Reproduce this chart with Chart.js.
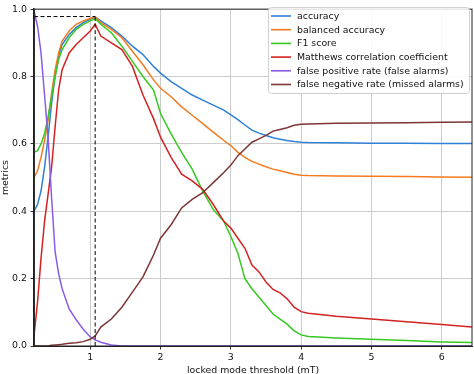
<!DOCTYPE html>
<html>
<head>
<meta charset="utf-8">
<script src="https://cdn.jsdelivr.net/npm/chart.js@4.4.1/dist/chart.umd.min.js"></script>
<style>
  html, body { margin: 0; padding: 0; background: #fff; }
  #wrap { width: 474px; height: 374px; position: relative; }
</style>
</head>
<body>
<div id="wrap"><canvas id="c" width="474" height="374"></canvas></div>
<script>
// ---- data ----
const thresholds = [0.2,0.25,0.3,0.35,0.4,0.45,0.5,0.55,0.6,0.7,0.8,0.9,1.0,1.07,1.15,1.3,1.45,1.6,1.75,1.9,2.0,2.15,2.3,2.45,2.6,2.75,2.9,3.0,3.1,3.2,3.3,3.4,3.5,3.6,3.7,3.8,3.9,4.0,4.1,4.5,5.0,5.5,6.0,6.45];

const accuracy = [0.40,0.42,0.46,0.53,0.62,0.72,0.80,0.86,0.895,0.925,0.945,0.96,0.97,0.977,0.965,0.945,0.92,0.89,0.865,0.83,0.81,0.785,0.765,0.745,0.73,0.715,0.70,0.686,0.672,0.656,0.641,0.632,0.625,0.618,0.614,0.61,0.607,0.605,0.604,0.603,0.602,0.602,0.601,0.601];

const balancedAccuracy = [0.50,0.52,0.56,0.61,0.67,0.75,0.82,0.87,0.905,0.935,0.955,0.965,0.972,0.977,0.96,0.94,0.915,0.875,0.835,0.79,0.765,0.74,0.71,0.685,0.66,0.635,0.61,0.595,0.575,0.56,0.548,0.54,0.532,0.525,0.52,0.515,0.51,0.507,0.506,0.505,0.504,0.503,0.502,0.501];

const f1Score = [0.575,0.58,0.60,0.63,0.68,0.74,0.80,0.85,0.88,0.915,0.94,0.955,0.965,0.972,0.955,0.93,0.89,0.845,0.80,0.76,0.69,0.63,0.575,0.525,0.46,0.405,0.37,0.325,0.275,0.20,0.17,0.145,0.12,0.095,0.08,0.065,0.045,0.033,0.028,0.024,0.02,0.016,0.012,0.01];

const mcc = [0.03,0.13,0.26,0.37,0.45,0.53,0.65,0.76,0.82,0.87,0.895,0.915,0.935,0.955,0.92,0.90,0.88,0.83,0.745,0.675,0.62,0.56,0.51,0.49,0.465,0.42,0.37,0.35,0.32,0.29,0.24,0.22,0.19,0.168,0.158,0.14,0.115,0.102,0.097,0.088,0.08,0.072,0.064,0.056];

const falsePositiveRate = [0.995,0.95,0.87,0.745,0.62,0.44,0.28,0.215,0.17,0.11,0.078,0.05,0.027,0.018,0.011,0.003,0,0,0,0,0,0,0,0,0,0,0,0,0,0,0,0,0,0,0,0,0,0,0,0,0,0,0,0];

const falseNegativeRate = [0,0,0,0,0,0.002,0.003,0.004,0.005,0.008,0.01,0.013,0.02,0.03,0.056,0.08,0.115,0.16,0.205,0.27,0.32,0.36,0.41,0.435,0.455,0.485,0.515,0.537,0.565,0.585,0.605,0.615,0.625,0.638,0.643,0.648,0.655,0.658,0.659,0.661,0.662,0.663,0.664,0.665];

const seriesLabels = ["accuracy","balanced accuracy","F1 score","Matthews correlation coefficient","false positive rate (false alarms)","false negative rate (missed alarms)"];
const seriesColors = ["#2f80d8","#f47b22","#36c922","#d42222","#8a5ce6","#7d3535"];
const xTickValues = [1,2,3,4,5,6];
const yTickValues = [0,0.2,0.4,0.6,0.8,1.0];
const optimalThreshold = 1.07;
const peakAccuracy = 0.978;
const xMin = 0.2, xMax = 6.43;

// ---- build datasets ----
const seriesValues = [accuracy, balancedAccuracy, f1Score, mcc, falsePositiveRate, falseNegativeRate];
const datasets = seriesValues.map((vals, i) => ({
  label: seriesLabels[i],
  data: thresholds.map((t, j) => ({x: t, y: vals[j]})),
  borderColor: seriesColors[i],
  backgroundColor: seriesColors[i],
  borderWidth: 1.5,
  pointRadius: 0,
  tension: 0,
  order: 6 - i
}));
datasets.push({
  label: "_vline",
  data: [{x: optimalThreshold, y: 0}, {x: optimalThreshold, y: peakAccuracy}],
  borderColor: "#000", borderWidth: 1, borderDash: [4, 2.5], pointRadius: 0, order: -1
});
datasets.push({
  label: "_hline",
  data: [{x: xMin, y: peakAccuracy}, {x: optimalThreshold, y: peakAccuracy}],
  borderColor: "#000", borderWidth: 1, borderDash: [4, 2.5], pointRadius: 0, order: -1
});

const FONT = "'DejaVu Sans', sans-serif";
const FS = 9.4;

const framePlugin = {
  id: 'frame',
  afterDatasetsDraw(chart) {
    const {ctx, chartArea: a} = chart;
    ctx.save();
    ctx.strokeStyle = '#222';
    ctx.lineWidth = 1;
    ctx.strokeRect(a.left, a.top, a.right - a.left, a.bottom - a.top);
    ctx.lineWidth = 1.6;
    ctx.beginPath(); ctx.moveTo(a.left, a.top); ctx.lineTo(a.left, a.bottom); ctx.stroke();
    ctx.restore();
  },
  afterDraw(chart) {
    const ctx = chart.ctx;
    ctx.save();
    const bx = 268.5, by = 7.5, bw = 201, bh = 86;
    ctx.fillStyle = 'rgba(255,255,255,0.85)';
    ctx.strokeStyle = '#d0d0d0';
    ctx.lineWidth = 1;
    ctx.beginPath();
    ctx.roundRect(bx, by, bw, bh, 3);
    ctx.fill(); ctx.stroke();
    ctx.font = FS + "px " + FONT;
    ctx.textBaseline = 'middle';
    ctx.textAlign = 'left';
    seriesLabels.forEach((lab, i) => {
      const y = 16 + i * 13.7;
      ctx.strokeStyle = seriesColors[i];
      ctx.lineWidth = 1.6;
      ctx.beginPath(); ctx.moveTo(271, y); ctx.lineTo(291, y); ctx.stroke();
      ctx.fillStyle = '#111';
      ctx.fillText(lab, 297, y + 0.5);
    });
    ctx.restore();
  }
};

new Chart(document.getElementById('c'), {
  type: 'line',
  data: { datasets },
  plugins: [framePlugin],
  options: {
    responsive: false,
    animation: false,
    events: [],
    layout: { padding: { top: 3, right: 2, left: 0, bottom: 0 } },
    plugins: { legend: { display: false }, tooltip: { enabled: false } },
    scales: {
      x: {
        type: 'linear',
        min: xMin, max: xMax,
        afterFit(s) { s.height = 28; },
        afterBuildTicks(s) { s.ticks = xTickValues.map(v => ({value: v})); },
        ticks: { color: '#111', font: { family: FONT, size: FS }, padding: 2, maxRotation: 0,
                 callback: v => String(v) },
        grid: { color: '#cccccc', lineWidth: 1, tickLength: 3.5, drawTicks: true, tickColor: '#333' },
        border: { color: '#222', width: 1 },
        title: { display: true, text: 'locked mode threshold (mT)', color: '#111',
                 font: { family: FONT, size: FS }, padding: { top: 0, bottom: -2 } }
      },
      y: {
        type: 'linear',
        min: 0, max: 1,
        afterFit(s) { s.width = 34; },
        afterBuildTicks(s) { s.ticks = yTickValues.map(v => ({value: v})); },
        ticks: { color: '#111', font: { family: FONT, size: FS }, padding: 3.5,
                 callback: v => Number(v).toFixed(1) },
        grid: { color: '#cccccc', lineWidth: 1, tickLength: 3.5, tickColor: '#333' },
        border: { color: '#222', width: 1.5 },
        title: { display: true, text: 'metrics', color: '#111',
                 font: { family: FONT, size: FS }, padding: { top: 0, bottom: 0 } }
      }
    }
  }
});
</script>
</body>
</html>
